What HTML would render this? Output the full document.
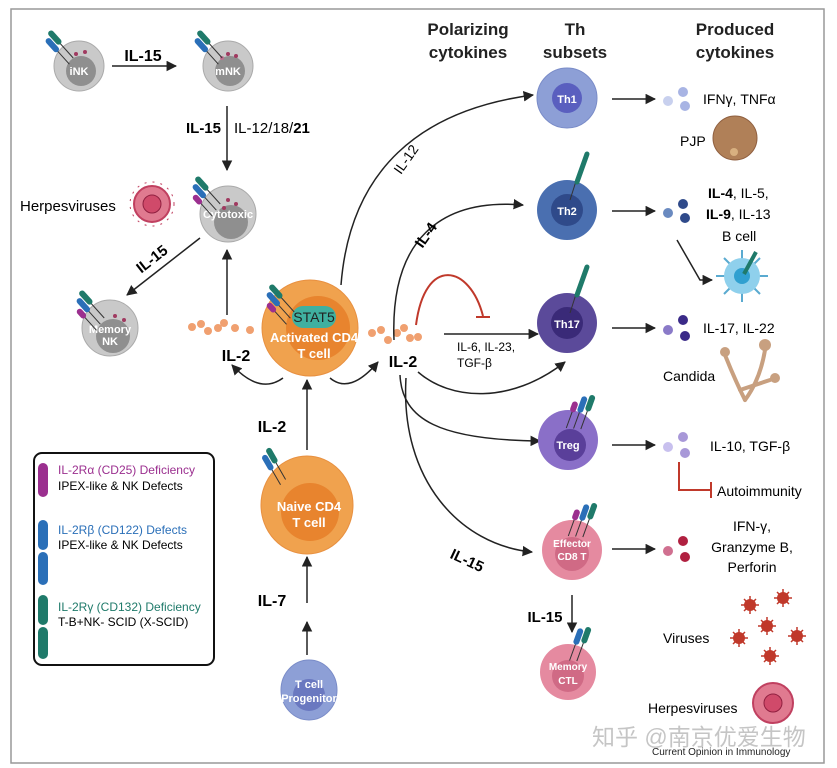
<!DOCTYPE html>
<html><head><meta charset="utf-8"><style>
html,body{margin:0;padding:0;background:#fff}
svg{display:block}
text{font-family:"Liberation Sans","Noto Sans CJK SC",sans-serif}
</style></head><body>
<svg width="837" height="768" viewBox="0 0 837 768" xmlns="http://www.w3.org/2000/svg">
<defs>
<marker id="a" viewBox="0 0 10 10" refX="9" refY="5" markerWidth="7" markerHeight="7" orient="auto"><path d="M0,0L10,5L0,10z" fill="#222"/></marker>
<g id="rec"><line x1="3" y1="-20" x2="3" y2="0" stroke="#333"/><line x1="-4" y1="-16" x2="-4" y2="2" stroke="#333"/><rect x="0" y="-36" width="6" height="17" rx="3" fill="#1f7a6a"/><rect x="-7" y="-32" width="6" height="17" rx="3" fill="#2a6fb8"/></g>
<g id="rec3"><use href="#rec"/><line x1="-11" y1="-14" x2="-11" y2="4" stroke="#333"/><rect x="-14" y="-24" width="6" height="11" rx="3" fill="#9b2f8f"/></g>
<g id="vir"><circle r="6" fill="#c0392b"/><g stroke="#c0392b" stroke-width="1.5"><line x1="-9" y1="0" x2="9" y2="0"/><line x1="0" y1="-9" x2="0" y2="9"/><line x1="-6" y1="-6" x2="6" y2="6"/><line x1="-6" y1="6" x2="6" y2="-6"/></g></g>
</defs>
<rect x="11" y="9" width="813" height="754" fill="none" stroke="#999" stroke-width="1.5"/>

<!-- NK cells -->
<g transform="translate(79,66)"><circle r="25" fill="#c9c9c9" stroke="#aaa"/><circle cx="2" cy="5" r="15" fill="#8f8f8f"/><circle cx="-3" cy="-12" r="2" fill="#a03a60"/><circle cx="6" cy="-14" r="2" fill="#a03a60"/><text x="0" y="9" font-size="11" fill="#fff" font-weight="bold" text-anchor="middle">iNK</text><g transform="translate(-8,-6) rotate(-42)"><use href="#rec"/></g></g>
<g transform="translate(228,66)"><circle r="25" fill="#c9c9c9" stroke="#aaa"/><circle cx="2" cy="5" r="15" fill="#8f8f8f"/><circle cx="0" cy="-12" r="2" fill="#a03a60"/><circle cx="8" cy="-10" r="2" fill="#a03a60"/><circle cx="-6" cy="-8" r="2" fill="#c07090"/><text x="0" y="9" font-size="11" fill="#fff" font-weight="bold" text-anchor="middle">mNK</text><g transform="translate(-8,-6) rotate(-42)"><use href="#rec"/></g></g>
<line x1="112" y1="66" x2="176" y2="66" stroke="#222" stroke-width="1.5" marker-end="url(#a)"/>
<text x="143" y="61" font-size="16" font-weight="bold" text-anchor="middle">IL-15</text>
<line x1="227" y1="106" x2="227" y2="170" stroke="#222" stroke-width="1.5" marker-end="url(#a)"/>
<text x="221" y="133" font-size="15" font-weight="bold" text-anchor="end">IL-15</text>
<text x="234" y="133" font-size="15">IL-12/18/<tspan font-weight="bold">21</tspan></text>
<text x="20" y="211" font-size="15">Herpesviruses</text>
<g transform="translate(152,204)"><circle r="22" fill="none" stroke="#c04060" stroke-width="1" stroke-dasharray="2 6"/><circle r="18" fill="#e07a90" stroke="#c04060" stroke-width="2"/><circle r="9" fill="#d04a6a" stroke="#902040"/></g>
<g transform="translate(228,214)"><circle r="28" fill="#c9c9c9" stroke="#aaa"/><circle cx="3" cy="8" r="17" fill="#8f8f8f"/><circle cx="0" cy="-14" r="2" fill="#a03a60"/><circle cx="8" cy="-10" r="2" fill="#a03a60"/><circle cx="-4" cy="-6" r="2" fill="#a03a60"/><text x="0" y="4" font-size="11" fill="#fff" font-weight="bold" text-anchor="middle">Cytotoxic</text><g transform="translate(-10,-8) rotate(-42)"><use href="#rec3"/></g></g>
<line x1="200" y1="238" x2="127" y2="295" stroke="#222" stroke-width="1.5" marker-end="url(#a)"/>
<text x="155" y="263" font-size="15" font-weight="bold" text-anchor="middle" transform="rotate(-38 155 263)">IL-15</text>
<g transform="translate(110,328)"><circle r="28" fill="#c9c9c9" stroke="#aaa"/><circle cx="3" cy="8" r="17" fill="#8f8f8f"/><circle cx="5" cy="-12" r="2" fill="#a03a60"/><circle cx="14" cy="-8" r="2" fill="#a03a60"/><text x="0" y="5" font-size="11" fill="#fff" font-weight="bold" text-anchor="middle">Memory</text><text x="0" y="17" font-size="11" fill="#fff" font-weight="bold" text-anchor="middle">NK</text><g transform="translate(-8,-8) rotate(-42)"><use href="#rec3"/></g></g>
<line x1="227" y1="315" x2="227" y2="250" stroke="#222" stroke-width="1.5" marker-end="url(#a)"/>
<g fill="#f0a070"><circle cx="192" cy="327" r="4"/><circle cx="201" cy="324" r="4"/><circle cx="208" cy="331" r="4"/><circle cx="218" cy="328" r="4"/><circle cx="224" cy="323" r="4"/><circle cx="235" cy="328" r="4"/><circle cx="250" cy="330" r="4"/></g>
<text x="236" y="361" font-size="16" font-weight="bold" text-anchor="middle">IL-2</text>

<!-- Activated CD4 -->
<g transform="translate(310,328)"><circle r="48" fill="#f0a24e" stroke="#e89040"/><circle cx="8" cy="0" r="32" fill="#e8842e"/><rect x="-18" y="-22" width="44" height="22" rx="11" fill="#3fb0a0"/><text x="4" y="-6" font-size="14" text-anchor="middle" fill="#222">STAT5</text><text x="4" y="14" font-size="13" fill="#fff" font-weight="bold" text-anchor="middle">Activated CD4</text><text x="4" y="30" font-size="13" fill="#fff" font-weight="bold" text-anchor="middle">T cell</text><g transform="translate(-18,-14) rotate(-42)"><use href="#rec3"/></g></g>
<path d="M283,378 Q260,395 232,365" fill="none" stroke="#222" stroke-width="1.5" marker-end="url(#a)"/>
<path d="M330,378 Q350,395 378,362" fill="none" stroke="#222" stroke-width="1.5" marker-end="url(#a)"/>
<line x1="307" y1="450" x2="307" y2="380" stroke="#222" stroke-width="1.5" marker-end="url(#a)"/>
<text x="272" y="432" font-size="16" font-weight="bold" text-anchor="middle">IL-2</text>
<g fill="#f0a070"><circle cx="372" cy="333" r="4"/><circle cx="381" cy="330" r="4"/><circle cx="388" cy="340" r="4"/><circle cx="397" cy="333" r="4"/><circle cx="404" cy="328" r="4"/><circle cx="410" cy="338" r="4"/><circle cx="418" cy="337" r="4"/></g>
<text x="403" y="367" font-size="16" font-weight="bold" text-anchor="middle">IL-2</text>

<!-- curves -->
<path d="M341,285 C350,170 420,110 533,95" fill="none" stroke="#222" stroke-width="1.5" marker-end="url(#a)"/>
<text x="410" y="162" font-size="14" text-anchor="middle" transform="rotate(-55 410 162)">IL-12</text>
<path d="M394,340 C390,240 440,198 523,205" fill="none" stroke="#222" stroke-width="1.5" marker-end="url(#a)"/>
<text x="430" y="238" font-size="15" font-weight="bold" text-anchor="middle" transform="rotate(-55 430 238)">IL-4</text>
<path d="M416,325 C425,255 470,265 483,316" fill="none" stroke="#c0392b" stroke-width="2"/>
<line x1="476" y1="317" x2="490" y2="317" stroke="#c0392b" stroke-width="2"/>
<line x1="444" y1="334" x2="538" y2="334" stroke="#222" stroke-width="1.5" marker-end="url(#a)"/>
<text x="457" y="351" font-size="12">IL-6,  IL-23,</text>
<text x="457" y="367" font-size="12">TGF-β</text>
<path d="M418,372 C450,400 510,405 565,362" fill="none" stroke="#222" stroke-width="1.5" marker-end="url(#a)"/>
<path d="M400,375 C402,420 440,440 540,441" fill="none" stroke="#222" stroke-width="1.5" marker-end="url(#a)"/>
<path d="M406,378 C400,480 460,545 532,552" fill="none" stroke="#222" stroke-width="1.5" marker-end="url(#a)"/>
<text x="465" y="565" font-size="15" font-weight="bold" text-anchor="middle" transform="rotate(25 465 565)">IL-15</text>

<!-- Naive & progenitor -->
<g transform="translate(307,505)"><ellipse rx="46" ry="49" fill="#f0a24e" stroke="#e89040"/><circle cx="3" cy="7" r="29" fill="#e8842e"/><text x="2" y="6" font-size="13" fill="#fff" font-weight="bold" text-anchor="middle">Naive CD4</text><text x="2" y="22" font-size="13" fill="#fff" font-weight="bold" text-anchor="middle">T cell</text><g transform="translate(-24,-24) rotate(-30)"><use href="#rec"/></g></g>
<line x1="307" y1="603" x2="307" y2="557" stroke="#222" stroke-width="1.5" marker-end="url(#a)"/>
<line x1="307" y1="655" x2="307" y2="622" stroke="#222" stroke-width="1.5" marker-end="url(#a)"/>
<text x="272" y="606" font-size="16" font-weight="bold" text-anchor="middle">IL-7</text>
<g transform="translate(309,690)"><ellipse rx="28" ry="30" fill="#8d9fd6" stroke="#7a8cc8"/><circle cx="0" cy="5" r="16" fill="#6a78c0"/><text x="0" y="-2" font-size="11" fill="#fff" font-weight="bold" text-anchor="middle">T cell</text><text x="0" y="12" font-size="11" fill="#fff" font-weight="bold" text-anchor="middle">Progenitor</text></g>

<!-- Legend -->
<rect x="34" y="453" width="180" height="212" rx="8" fill="#fff" stroke="#111" stroke-width="2"/>
<rect x="38" y="463" width="10" height="34" rx="5" fill="#9b2f8f"/>
<rect x="38" y="520" width="10" height="30" rx="5" fill="#2a6fb8"/><rect x="38" y="552" width="10" height="33" rx="5" fill="#2a6fb8"/>
<rect x="38" y="595" width="10" height="30" rx="5" fill="#1f7a6a"/><rect x="38" y="627" width="10" height="32" rx="5" fill="#1f7a6a"/>
<text x="58" y="474" font-size="12" fill="#9b2f8f">IL-2Rα (CD25) Deficiency</text>
<text x="58" y="490" font-size="12">IPEX-like &amp; NK Defects</text>
<text x="58" y="534" font-size="12" fill="#2a6fb8">IL-2Rβ (CD122) Defects</text>
<text x="58" y="549" font-size="12">IPEX-like &amp; NK Defects</text>
<text x="58" y="611" font-size="12" fill="#1f7a6a">IL-2Rγ (CD132) Deficiency</text>
<text x="58" y="626" font-size="12">T-B+NK- SCID (X-SCID)</text>

<!-- headers -->
<g font-size="17" font-weight="bold" text-anchor="middle" fill="#222">
<text x="468" y="35">Polarizing</text><text x="468" y="58">cytokines</text>
<text x="575" y="35">Th</text><text x="575" y="58">subsets</text>
<text x="735" y="35">Produced</text><text x="735" y="58">cytokines</text>
</g>

<!-- Th cells -->
<g transform="translate(567,98)"><circle r="30" fill="#8d9fd6" stroke="#7a8cc8"/><circle r="15" fill="#5a5fbf"/><text y="5" font-size="11" fill="#fff" font-weight="bold" text-anchor="middle">Th1</text></g>
<g transform="translate(567,210)"><circle r="30" fill="#4a6fb0"/><circle r="16" fill="#2f4a8a"/><text y="5" font-size="11" fill="#fff" font-weight="bold" text-anchor="middle">Th2</text><line x1="3" y1="-10" x2="10" y2="-32" stroke="#333"/><line x1="10" y1="-28" x2="20" y2="-56" stroke="#1f7a6a" stroke-width="5" stroke-linecap="round"/></g>
<g transform="translate(567,323)"><circle r="30" fill="#5b4a9a"/><circle r="16" fill="#3a2a78"/><text y="5" font-size="11" fill="#fff" font-weight="bold" text-anchor="middle">Th17</text><line x1="3" y1="-10" x2="10" y2="-32" stroke="#333"/><line x1="10" y1="-28" x2="20" y2="-56" stroke="#1f7a6a" stroke-width="5" stroke-linecap="round"/></g>
<g transform="translate(568,440)"><circle r="30" fill="#8a6fc8"/><circle cx="2" cy="5" r="16" fill="#5a3f9a"/><text y="9" font-size="11" fill="#fff" font-weight="bold" text-anchor="middle">Treg</text><g transform="translate(10,-12) rotate(20)"><use href="#rec3"/></g></g>
<g transform="translate(572,550)"><circle r="30" fill="#e58aa0"/><circle cx="0" cy="4" r="17" fill="#d06a85"/><text y="-3" font-size="10" fill="#fff" font-weight="bold" text-anchor="middle">Effector</text><text y="10" font-size="10" fill="#fff" font-weight="bold" text-anchor="middle">CD8 T</text><g transform="translate(8,-14) rotate(20)"><use href="#rec3"/></g></g>
<line x1="572" y1="595" x2="572" y2="632" stroke="#222" stroke-width="1.5" marker-end="url(#a)"/>
<text x="545" y="622" font-size="15" font-weight="bold" text-anchor="middle">IL-15</text>
<g transform="translate(568,672)"><circle r="28" fill="#e58aa0"/><circle cx="0" cy="4" r="16" fill="#d06a85"/><text y="-2" font-size="10" fill="#fff" font-weight="bold" text-anchor="middle">Memory</text><text y="12" font-size="10" fill="#fff" font-weight="bold" text-anchor="middle">CTL</text><g transform="translate(6,-12) rotate(20)"><use href="#rec"/></g></g>

<!-- output arrows -->
<g stroke="#222" stroke-width="1.5" marker-end="url(#a)">
<line x1="612" y1="99" x2="655" y2="99"/><line x1="612" y1="211" x2="655" y2="211"/><line x1="612" y1="328" x2="655" y2="328"/><line x1="612" y1="445" x2="655" y2="445"/><line x1="612" y1="549" x2="655" y2="549"/>
<path d="M677,240 L700,280 L712,280" fill="none"/>
</g>
<g><circle cx="668" cy="101" r="5" fill="#c8d0ee"/><circle cx="683" cy="92" r="5" fill="#a8b4e4"/><circle cx="685" cy="106" r="5" fill="#a8b4e4"/></g>
<g><circle cx="668" cy="213" r="5" fill="#6a8ac0"/><circle cx="683" cy="204" r="5" fill="#2f4a8a"/><circle cx="685" cy="218" r="5" fill="#2f4a8a"/></g>
<g><circle cx="668" cy="330" r="5" fill="#8a7ac8"/><circle cx="683" cy="320" r="5" fill="#3a2a88"/><circle cx="685" cy="336" r="5" fill="#3a2a88"/></g>
<g><circle cx="668" cy="447" r="5" fill="#c8c0ee"/><circle cx="683" cy="437" r="5" fill="#a898d8"/><circle cx="685" cy="453" r="5" fill="#a898d8"/></g>
<g><circle cx="668" cy="551" r="5" fill="#d07090"/><circle cx="683" cy="541" r="5" fill="#b02040"/><circle cx="685" cy="557" r="5" fill="#b02040"/></g>
<text x="703" y="104" font-size="14">IFNγ, TNFα</text>
<text x="680" y="146" font-size="14">PJP</text>
<circle cx="735" cy="138" r="22" fill="#b08058" stroke="#906040"/><circle cx="734" cy="152" r="4" fill="#d8b080"/>
<text x="708" y="198" font-size="14"><tspan font-weight="bold">IL-4</tspan>, IL-5,</text>
<text x="706" y="219" font-size="14"><tspan font-weight="bold">IL-9</tspan>, IL-13</text>
<text x="722" y="241" font-size="14">B cell</text>
<g transform="translate(742,276)"><g stroke="#5aaad0" stroke-width="2"><line x1="-26" y1="0" x2="26" y2="0"/><line x1="0" y1="-26" x2="0" y2="26"/><line x1="-18" y1="-18" x2="18" y2="18"/><line x1="-18" y1="18" x2="18" y2="-18"/></g><circle r="18" fill="#8fd0ec"/><circle r="8" fill="#30a0d0"/><line x1="2" y1="-2" x2="14" y2="-24" stroke="#1f7a6a" stroke-width="4"/></g>
<text x="703" y="333" font-size="14">IL-17, IL-22</text>
<text x="663" y="381" font-size="14">Candida</text>
<g stroke="#c8a080" stroke-width="4" fill="none" stroke-linecap="round"><path d="M725,355 Q735,380 745,400"/><path d="M765,350 Q760,380 745,400"/><path d="M740,390 L770,380"/></g>
<g fill="#c8a080"><circle cx="765" cy="345" r="6"/><circle cx="725" cy="352" r="5"/><circle cx="775" cy="378" r="5"/></g>
<text x="710" y="451" font-size="14">IL-10, TGF-β</text>
<path d="M679,462 L679,490 L711,490" fill="none" stroke="#c0392b" stroke-width="2"/><line x1="711" y1="482" x2="711" y2="498" stroke="#c0392b" stroke-width="2"/>
<text x="717" y="496" font-size="14">Autoimmunity</text>
<text x="752" y="531" font-size="14" text-anchor="middle">IFN-γ,</text>
<text x="752" y="552" font-size="14" text-anchor="middle">Granzyme B,</text>
<text x="752" y="572" font-size="14" text-anchor="middle">Perforin</text>
<use href="#vir" x="750" y="605"/><use href="#vir" x="783" y="598"/><use href="#vir" x="767" y="626"/><use href="#vir" x="739" y="638"/><use href="#vir" x="797" y="636"/><use href="#vir" x="770" y="656"/>
<text x="663" y="643" font-size="14">Viruses</text>
<text x="648" y="713" font-size="14">Herpesviruses</text>
<g transform="translate(773,703)"><circle r="20" fill="#e07a90" stroke="#c04060" stroke-width="2"/><circle r="9" fill="#d04a6a" stroke="#902040"/></g>
<text x="592" y="745" font-size="23" fill="#bbb" fill-opacity="0.85">知乎 @南京优爱生物</text>
<text x="652" y="755" font-size="10" fill="#222">Current Opinion in Immunology</text>
</svg>
</body></html>
